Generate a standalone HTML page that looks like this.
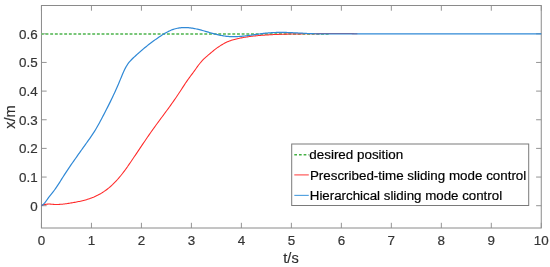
<!DOCTYPE html>
<html><head><meta charset="utf-8"><title>plot</title>
<style>
html,body{margin:0;padding:0;background:#fff;}
svg{display:block;font-family:"Liberation Sans",sans-serif;}
</style></head><body>
<svg width="550" height="267" viewBox="0 0 550 267">
<rect width="550" height="267" fill="#fff"/>

<rect x="41.45" y="5.5" width="499.8" height="222.5" fill="none" stroke="#8a8a8a" stroke-width="1"/>
<path d="M41.45,228.0v-5.2M41.45,5.5v5.2M91.44,228.0v-5.2M91.44,5.5v5.2M141.42,228.0v-5.2M141.42,5.5v5.2M191.40,228.0v-5.2M191.40,5.5v5.2M241.39,228.0v-5.2M241.39,5.5v5.2M291.38,228.0v-5.2M291.38,5.5v5.2M341.36,228.0v-5.2M341.36,5.5v5.2M391.34,228.0v-5.2M391.34,5.5v5.2M441.33,228.0v-5.2M441.33,5.5v5.2M491.31,228.0v-5.2M491.31,5.5v5.2M541.30,228.0v-5.2M541.30,5.5v5.2M41.45,205.70h5.2M541.3,205.70h-5.2M41.45,177.05h5.2M541.3,177.05h-5.2M41.45,148.40h5.2M541.3,148.40h-5.2M41.45,119.75h5.2M541.3,119.75h-5.2M41.45,91.10h5.2M541.3,91.10h-5.2M41.45,62.45h5.2M541.3,62.45h-5.2M41.45,33.80h5.2M541.3,33.80h-5.2" stroke="#8e8e8e" stroke-width="0.95" fill="none"/>
<path d="M41.45,33.95H330" stroke="#78c678" stroke-width="2" stroke-dasharray="2.9 1.77" stroke-dashoffset="0.6" fill="none"/>
<path d="M41.5,205.58 L42.5,204.92 L43.5,204.63 L44.5,204.49 L45.5,204.36 L46.5,204.22 L47.5,204.11 L48.5,204.07 L49.5,204.08 L50.5,204.13 L51.5,204.20 L52.5,204.28 L53.5,204.36 L54.5,204.42 L55.5,204.45 L56.5,204.46 L57.5,204.46 L58.5,204.43 L59.5,204.38 L60.5,204.32 L61.5,204.24 L62.5,204.15 L63.5,204.05 L64.5,203.93 L65.5,203.81 L66.5,203.67 L67.5,203.52 L68.5,203.37 L69.5,203.21 L70.5,203.05 L71.5,202.88 L72.5,202.71 L73.5,202.54 L74.5,202.36 L75.5,202.18 L76.5,201.99 L77.5,201.80 L78.5,201.60 L79.5,201.39 L80.5,201.17 L81.5,200.95 L82.5,200.71 L83.5,200.46 L84.5,200.20 L85.5,199.92 L86.5,199.63 L87.5,199.33 L88.5,199.01 L89.5,198.68 L90.5,198.33 L91.5,197.96 L92.5,197.57 L93.5,197.17 L94.5,196.74 L95.5,196.29 L96.5,195.82 L97.5,195.33 L98.5,194.81 L99.5,194.27 L100.5,193.71 L101.5,193.12 L102.5,192.50 L103.5,191.85 L104.5,191.18 L105.5,190.48 L106.5,189.74 L107.5,188.98 L108.5,188.19 L109.5,187.36 L110.5,186.50 L111.5,185.60 L112.5,184.68 L113.5,183.71 L114.5,182.71 L115.5,181.67 L116.5,180.60 L117.5,179.50 L118.5,178.36 L119.5,177.18 L120.5,175.98 L121.5,174.74 L122.5,173.48 L123.5,172.19 L124.5,170.86 L125.5,169.51 L126.5,168.14 L127.5,166.75 L128.4,165.33 L129.4,163.90 L130.4,162.46 L131.4,161.00 L132.4,159.54 L133.4,158.06 L134.4,156.58 L135.4,155.09 L136.4,153.60 L137.4,152.11 L138.4,150.61 L139.4,149.11 L140.4,147.62 L141.4,146.13 L142.4,144.64 L143.4,143.15 L144.4,141.68 L145.4,140.21 L146.4,138.74 L147.4,137.29 L148.4,135.84 L149.4,134.40 L150.4,132.97 L151.4,131.55 L152.4,130.13 L153.4,128.73 L154.4,127.33 L155.4,125.94 L156.4,124.56 L157.4,123.19 L158.4,121.83 L159.4,120.48 L160.4,119.13 L161.4,117.79 L162.4,116.44 L163.4,115.10 L164.4,113.76 L165.4,112.41 L166.4,111.06 L167.4,109.71 L168.4,108.34 L169.4,106.97 L170.4,105.58 L171.4,104.18 L172.4,102.77 L173.4,101.34 L174.4,99.90 L175.4,98.45 L176.4,96.98 L177.4,95.50 L178.4,94.01 L179.4,92.50 L180.4,90.98 L181.4,89.45 L182.4,87.91 L183.4,86.38 L184.4,84.85 L185.4,83.33 L186.4,81.84 L187.4,80.39 L188.4,78.98 L189.4,77.60 L190.4,76.25 L191.4,74.92 L192.4,73.58 L193.4,72.23 L194.4,70.85 L195.4,69.45 L196.4,68.05 L197.4,66.65 L198.4,65.28 L199.4,63.97 L200.4,62.72 L201.4,61.55 L202.4,60.47 L203.4,59.45 L204.4,58.49 L205.4,57.57 L206.4,56.69 L207.4,55.82 L208.4,54.96 L209.4,54.10 L210.4,53.25 L211.4,52.40 L212.4,51.56 L213.4,50.75 L214.4,49.95 L215.4,49.18 L216.4,48.43 L217.4,47.70 L218.4,47.00 L219.4,46.32 L220.4,45.67 L221.4,45.04 L222.4,44.44 L223.4,43.86 L224.4,43.32 L225.4,42.80 L226.4,42.31 L227.4,41.85 L228.4,41.42 L229.4,41.03 L230.4,40.66 L231.4,40.31 L232.4,39.99 L233.4,39.69 L234.4,39.41 L235.4,39.15 L236.4,38.90 L237.4,38.67 L238.4,38.45 L239.4,38.25 L240.4,38.05 L241.4,37.86 L242.4,37.67 L243.4,37.50 L244.4,37.33 L245.4,37.17 L246.4,37.01 L247.4,36.87 L248.4,36.72 L249.4,36.59 L250.4,36.46 L251.4,36.33 L252.4,36.22 L253.4,36.10 L254.4,35.99 L255.4,35.89 L256.4,35.79 L257.4,35.69 L258.4,35.60 L259.4,35.51 L260.4,35.43 L261.4,35.35 L262.4,35.27 L263.4,35.20 L264.4,35.13 L265.4,35.06 L266.4,34.99 L267.4,34.93 L268.4,34.87 L269.4,34.81 L270.4,34.75 L271.4,34.70 L272.4,34.65 L273.4,34.60 L274.4,34.55 L275.4,34.51 L276.4,34.46 L277.4,34.42 L278.4,34.38 L279.4,34.35 L280.4,34.31 L281.4,34.28 L282.4,34.25 L283.4,34.22 L284.4,34.19 L285.4,34.16 L286.4,34.13 L287.4,34.11 L288.4,34.09 L289.4,34.06 L290.4,34.04 L291.4,34.02 L292.4,34.00 L293.4,33.98 L294.4,33.97 L295.4,33.95 L296.4,33.93 L297.4,33.92 L298.4,33.90 L299.4,33.89 L300.4,33.88 L301.4,33.86 L302.4,33.85 L303.4,33.84 L304.4,33.82 L305.4,33.81 L306.4,33.80 L307.4,33.78 L308.4,33.77 L309.4,33.76 L310.4,33.74 L311.4,33.73 L312.4,33.72 L313.4,33.70 L314.4,33.69 L315.4,33.67 L316.4,33.66 L317.4,33.64 L318.4,33.63 L319.4,33.61 L320.4,33.60 L321.4,33.58 L322.4,33.57 L323.4,33.56 L324.4,33.54 L325.4,33.53 L326.4,33.52 L327.4,33.51 L328.4,33.50 L329.4,33.49 L330.4,33.48 L331.4,33.47 L332.4,33.46 L333.4,33.46 L334.4,33.45 L335.4,33.45 L336.4,33.44 L337.4,33.44 L338.4,33.44 L339.4,33.44 L340.4,33.45 L341.4,33.45 L342.4,33.46 L343.4,33.46 L344.4,33.47 L345.4,33.48 L346.4,33.50 L347.4,33.51 L348.4,33.53 L349.4,33.55 L350.4,33.57 L351.4,33.59 L352.4,33.61 L353.4,33.64 L354.4,33.67 L355.4,33.70 L356.4,33.74 L357.4,33.78" stroke="#ff2a2a" stroke-width="1.05" fill="none" stroke-linejoin="round"/>
<path d="M41.5,205.68 L42.5,205.06 L43.5,204.21 L44.5,203.14 L45.5,201.88 L46.5,200.49 L47.5,199.08 L48.5,197.72 L49.5,196.42 L50.5,195.15 L51.5,193.89 L52.5,192.63 L53.5,191.34 L54.5,190.01 L55.5,188.62 L56.5,187.17 L57.5,185.67 L58.5,184.13 L59.5,182.57 L60.5,180.99 L61.5,179.39 L62.5,177.79 L63.5,176.20 L64.5,174.63 L65.5,173.07 L66.5,171.55 L67.5,170.05 L68.5,168.57 L69.5,167.11 L70.5,165.65 L71.5,164.20 L72.5,162.76 L73.5,161.33 L74.5,159.90 L75.5,158.47 L76.5,157.05 L77.5,155.64 L78.5,154.22 L79.5,152.82 L80.5,151.41 L81.5,150.01 L82.5,148.61 L83.5,147.21 L84.5,145.81 L85.5,144.42 L86.5,143.02 L87.5,141.62 L88.5,140.22 L89.5,138.81 L90.5,137.38 L91.5,135.92 L92.5,134.44 L93.5,132.91 L94.5,131.34 L95.5,129.72 L96.5,128.03 L97.5,126.29 L98.5,124.50 L99.5,122.67 L100.5,120.81 L101.5,118.92 L102.5,117.02 L103.5,115.12 L104.5,113.20 L105.5,111.27 L106.5,109.33 L107.5,107.37 L108.5,105.39 L109.5,103.38 L110.5,101.36 L111.5,99.30 L112.5,97.21 L113.5,95.09 L114.5,92.94 L115.5,90.75 L116.5,88.51 L117.5,86.23 L118.5,83.91 L119.5,81.54 L120.5,79.11 L121.5,76.67 L122.5,74.27 L123.5,71.97 L124.5,69.83 L125.5,67.86 L126.5,66.08 L127.5,64.50 L128.4,63.13 L129.4,61.92 L130.4,60.82 L131.4,59.78 L132.4,58.77 L133.4,57.80 L134.4,56.86 L135.4,55.94 L136.4,55.04 L137.4,54.14 L138.4,53.25 L139.4,52.37 L140.4,51.49 L141.4,50.62 L142.4,49.76 L143.4,48.91 L144.4,48.07 L145.4,47.24 L146.4,46.42 L147.4,45.62 L148.4,44.83 L149.4,44.05 L150.4,43.29 L151.4,42.54 L152.4,41.80 L153.4,41.07 L154.4,40.35 L155.4,39.63 L156.4,38.92 L157.4,38.21 L158.4,37.51 L159.4,36.83 L160.4,36.15 L161.4,35.49 L162.4,34.85 L163.4,34.22 L164.4,33.61 L165.4,33.03 L166.4,32.46 L167.4,31.92 L168.4,31.41 L169.4,30.93 L170.4,30.48 L171.4,30.06 L172.4,29.67 L173.4,29.32 L174.4,29.00 L175.4,28.72 L176.4,28.47 L177.4,28.25 L178.4,28.06 L179.4,27.91 L180.4,27.78 L181.4,27.68 L182.4,27.61 L183.4,27.57 L184.4,27.55 L185.4,27.56 L186.4,27.59 L187.4,27.64 L188.4,27.71 L189.4,27.81 L190.4,27.93 L191.4,28.06 L192.4,28.21 L193.4,28.38 L194.4,28.57 L195.4,28.76 L196.4,28.98 L197.4,29.20 L198.4,29.44 L199.4,29.68 L200.4,29.94 L201.4,30.20 L202.4,30.47 L203.4,30.75 L204.4,31.03 L205.4,31.32 L206.4,31.60 L207.4,31.89 L208.4,32.18 L209.4,32.47 L210.4,32.76 L211.4,33.05 L212.4,33.33 L213.4,33.60 L214.4,33.88 L215.4,34.14 L216.4,34.40 L217.4,34.64 L218.4,34.88 L219.4,35.10 L220.4,35.32 L221.4,35.52 L222.4,35.70 L223.4,35.87 L224.4,36.03 L225.4,36.16 L226.4,36.28 L227.4,36.38 L228.4,36.46 L229.4,36.53 L230.4,36.58 L231.4,36.62 L232.4,36.64 L233.4,36.65 L234.4,36.64 L235.4,36.62 L236.4,36.59 L237.4,36.55 L238.4,36.50 L239.4,36.44 L240.4,36.37 L241.4,36.29 L242.4,36.20 L243.4,36.10 L244.4,36.00 L245.4,35.89 L246.4,35.77 L247.4,35.65 L248.4,35.52 L249.4,35.39 L250.4,35.26 L251.4,35.12 L252.4,34.98 L253.4,34.84 L254.4,34.69 L255.4,34.55 L256.4,34.41 L257.4,34.27 L258.4,34.12 L259.4,33.99 L260.4,33.85 L261.4,33.71 L262.4,33.58 L263.4,33.46 L264.4,33.34 L265.4,33.22 L266.4,33.11 L267.4,33.01 L268.4,32.92 L269.4,32.83 L270.4,32.75 L271.4,32.68 L272.4,32.62 L273.4,32.56 L274.4,32.52 L275.4,32.48 L276.4,32.45 L277.4,32.42 L278.4,32.41 L279.4,32.39 L280.4,32.39 L281.4,32.39 L282.4,32.40 L283.4,32.41 L284.4,32.42 L285.4,32.44 L286.4,32.47 L287.4,32.50 L288.4,32.53 L289.4,32.57 L290.4,32.61 L291.4,32.65 L292.4,32.69 L293.4,32.74 L294.4,32.79 L295.4,32.84 L296.4,32.89 L297.4,32.95 L298.4,33.00 L299.4,33.05 L300.4,33.11 L301.4,33.16 L302.4,33.22 L303.4,33.27 L304.4,33.33 L305.4,33.38 L306.4,33.43 L307.4,33.48 L308.4,33.52 L309.4,33.57 L310.4,33.61 L311.4,33.65 L312.4,33.68 L313.4,33.71 L314.4,33.74 L315.4,33.77 L316.4,33.79 L317.4,33.81 L318.4,33.83 L319.4,33.85 L320.4,33.86 L321.4,33.87 L322.4,33.88 L323.4,33.89 L324.4,33.90 L325.4,33.90 L326.4,33.91 L327.4,33.91 L328.4,33.91 L329.4,33.91 L330.4,33.90 L331.4,33.90 L332.4,33.90 L333.4,33.89 L334.4,33.89 L335.4,33.88 L336.4,33.87 L337.4,33.87 L338.4,33.86 L339.4,33.85 L340.4,33.84 L341.4,33.84 L342.4,33.83 L343.4,33.82 L344.4,33.81 L345.4,33.81 L346.4,33.80 L347.4,33.80 L348.4,33.80 L349.4,33.79 L350.4,33.79 L351.4,33.79 L352.4,33.79 L353.4,33.79 L354.4,33.80 L355.4,33.80 L356.4,33.81 L357.4,33.82 L358.4,33.83 L359.4,33.84 L541.3,33.84" stroke="#3089d6" stroke-width="1.2" fill="none" stroke-linejoin="round"/>
<g font-size="13.4px" fill="#353535" stroke="#353535" stroke-width="0.2" text-anchor="middle">
<text x="41.5" y="244.8">0</text>
<text x="91.4" y="244.8">1</text>
<text x="141.4" y="244.8">2</text>
<text x="191.4" y="244.8">3</text>
<text x="241.4" y="244.8">4</text>
<text x="291.4" y="244.8">5</text>
<text x="341.4" y="244.8">6</text>
<text x="391.3" y="244.8">7</text>
<text x="441.3" y="244.8">8</text>
<text x="491.3" y="244.8">9</text>
<text x="541.3" y="244.8">10</text>
</g>
<g font-size="13.4px" fill="#353535" stroke="#353535" stroke-width="0.2" text-anchor="end">
<text x="37.6" y="210.7">0</text>
<text x="37.6" y="182.0">0.1</text>
<text x="37.6" y="153.4">0.2</text>
<text x="37.6" y="124.8">0.3</text>
<text x="37.6" y="96.1">0.4</text>
<text x="37.6" y="67.4">0.5</text>
<text x="37.6" y="38.8">0.6</text>
</g>
<text x="291.0" y="262.85" font-size="14.6px" fill="#2c2c2c" stroke="#2c2c2c" stroke-width="0.15" text-anchor="middle">t/s</text>
<text transform="translate(14.75,117.1) rotate(-90)" font-size="14.6px" fill="#2c2c2c" stroke="#2c2c2c" stroke-width="0.15" text-anchor="middle">x/m</text>
<rect x="291.7" y="144.0" width="237.0" height="61.5" fill="#fff" stroke="#7a7a7a" stroke-width="1"/>
<path d="M294.3,154.8H308.8" stroke="#44b044" stroke-width="1.4" stroke-dasharray="2.7 1.97" fill="none"/>
<path d="M294.3,174.9H308.8" stroke="#ff5050" stroke-width="1.15" fill="none"/>
<path d="M294.3,195.4H308.8" stroke="#55a3e0" stroke-width="1.15" fill="none"/>
<g font-size="13.7px" fill="#000" stroke="#000" stroke-width="0.2">
<text x="309.3" y="159.45" textLength="93.9" lengthAdjust="spacingAndGlyphs">desired position</text>
<text x="309.9" y="179.75" textLength="216.4" lengthAdjust="spacingAndGlyphs">Prescribed-time sliding mode control</text>
<text x="309.8" y="200.05" textLength="192.3" lengthAdjust="spacingAndGlyphs">Hierarchical sliding mode control</text>
</g>
</svg></body></html>
